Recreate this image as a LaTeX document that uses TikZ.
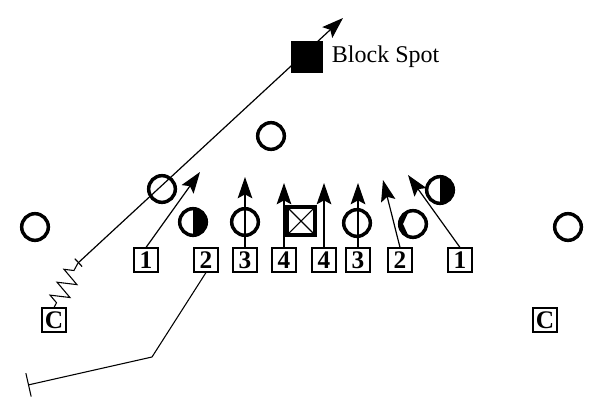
\documentclass[tikz,border=0pt]{standalone}
\usepackage{fontspec}
\setmainfont{Liberation Serif}
\usetikzlibrary{arrows.meta,decorations.pathmorphing,positioning}

\begin{document}
\begin{tikzpicture}[x=0.75pt,y=-0.75pt,
    defender/.style={circle,draw,line width=2.6pt,minimum size=20pt,inner sep=0pt},
    halfdef/.style={defender,path picture={\fill (path picture bounding box.north) rectangle (path picture bounding box.south east);}},
    notchdef/.style={defender,path picture={\fill (path picture bounding box.center) ++(-10,0) -- ++(5,-11) -- ++(-12,0) -- ++(0,22) -- ++(12,0) -- cycle;}},
    centre/.style={draw,line width=3.5pt,minimum size=21pt,inner sep=0pt,path picture={\draw[line width=0.8pt] (path picture bounding box.north west) -- (path picture bounding box.south east) (path picture bounding box.north east) -- (path picture bounding box.south west);}},
    man/.style={draw,line width=1.3pt,minimum size=17.5pt,inner sep=0pt,font=\fontsize{19}{19}\selectfont\bfseries},
    route/.style={line width=0.9pt,-{Stealth[length=16pt,width=11pt,inset=3pt]}},
    cut/.style={line width=0.8pt}]
  \useasboundingbox (0,0) rectangle (595,406);

  \node[defender] (d1) at (35,227) {};
  \node[defender] (d2) at (271,136) {};
  \node[defender] (d3) at (162,189) {};
  \node[halfdef] (d4) at (193,222) {};
  \node[defender] (d5) at (245,222) {};
  \node[centre] (ctr) at (301,221) {};
  \node[defender] (d6) at (357,223) {};
  \node[notchdef] (d7) at (413,224) {};
  \node[halfdef] (d8) at (440,190) {};
  \node[defender] (d9) at (568,227) {};

  \node[man] (l1) at (146,260) {1};
  \node[man] (l2) at (206,260) {2};
  \node[man] (l3) at (245,260) {3};
  \node[man] (l4) at (284,260) {4};
  \node[man] (r4) at (324,260) {4};
  \node[man] (r3) at (358,260) {3};
  \node[man] (r2) at (400,260) {2};
  \node[man] (r1) at (460,260) {1};
  \node[man] (cl) at (54,320) {C};
  \node[man] (cr) at (545,320) {C};

  \node[fill,minimum size=24pt,inner sep=0pt] (spot) at (307,57) {};
  \node[right=3pt of spot,font=\fontsize{18}{18}\selectfont] (spotlbl) {Block Spot};

  \coordinate (zz) at (78,263);
  \coordinate (tip) at (343,18);
  \coordinate (bend) at (152,357);
  \coordinate (blk) at (28,385);
  \coordinate (t1) at (200,172);
  \coordinate (t3) at (245,177);
  \coordinate (t4) at (284,183);
  \coordinate (u4) at (324,183);
  \coordinate (u3) at (358,183);
  \coordinate (u2) at (383,180);
  \coordinate (u1) at (408,175);

  \draw[cut,decorate,decoration={zigzag,segment length=11pt,amplitude=7pt,pre length=4pt,post length=2pt}] (cl.north) -- (zz);
  \draw[route,{Bar[width=8pt]}-{Stealth[length=16pt,width=11pt,inset=3pt]}] (zz) -- (tip);
  \draw[cut,-{Bar[width=18pt]}] (l2.south) -- (bend) -- (blk);

  \draw[route] (l1.north) -- (t1);
  \draw[route] (l3.north) -- (t3);
  \draw[route] (l4.north) -- (t4);
  \draw[route] (r4.north) -- (u4);
  \draw[route] (r3.north) -- (u3);
  \draw[route] (r2.north) -- (u2);
  \draw[route] (r1.north) -- (u1);
\end{tikzpicture}
\end{document}
